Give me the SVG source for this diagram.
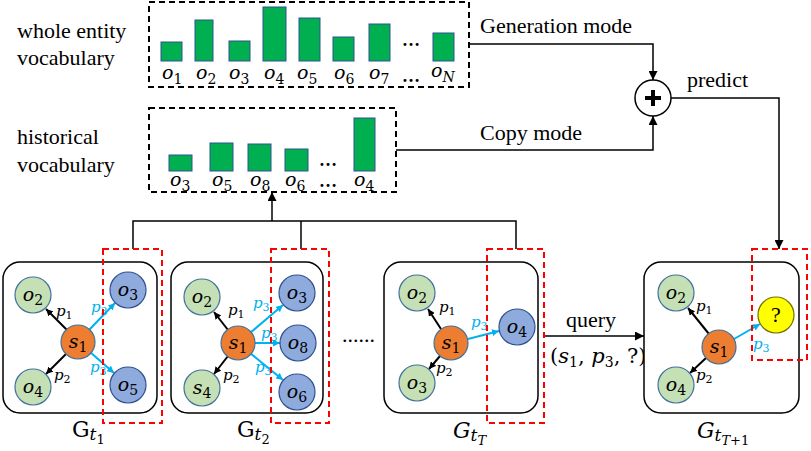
<svg xmlns="http://www.w3.org/2000/svg" width="811" height="451" viewBox="0 0 811 451">
<style>
.lbl{font-family:"Liberation Serif","Times New Roman",serif;font-size:22px;fill:#000}
.dots{font-family:"Liberation Serif","Times New Roman",serif;font-size:18px;font-weight:bold;fill:#000}
.m{font-family:"DejaVu Serif",serif;font-style:italic;font-size:19px;fill:#000}
.mu{font-family:"DejaVu Serif",serif;font-size:21px;fill:#000}
.g{font-family:"DejaVu Serif",serif;font-size:22px;fill:#000}
.sub{font-size:14px;font-style:normal}
.gs{font-size:17px;font-style:italic}
.gss{font-size:13px;font-style:normal}
.ssub{font-size:11px;font-style:normal}
.it{font-style:italic}
.e{font-family:"DejaVu Serif",serif;font-style:italic;font-size:15px;fill:#000}
.eb{fill:#00B0F0}
.bar{fill:#00B050;stroke:#2F528F;stroke-width:1}
.box{fill:none;stroke:#000;stroke-width:2;stroke-dasharray:6,4}
.red{fill:none;stroke:#FF0000;stroke-width:2;stroke-dasharray:6,4}
.gb{fill:#fff;stroke:#000;stroke-width:1.5}
.ng{fill:#C5E0B4;stroke:#41719C;stroke-width:1.2}
.nb{fill:#8FAADC;stroke:#2F528F;stroke-width:1.2}
.no{fill:#ED7D31;stroke:#41719C;stroke-width:1.2}
.ny{fill:#FFFF00;stroke:#6F6F00;stroke-width:1.2}
.c{fill:none;stroke:#000;stroke-width:1.5}
.ak{stroke:#000;stroke-width:2;fill:none}
.ab{stroke:#00B0F0;stroke-width:2;fill:none}
</style>
<defs>
<marker id="ah" viewBox="0 0 10 10" refX="10" refY="5" markerWidth="9" markerHeight="9" markerUnits="userSpaceOnUse" orient="auto"><path d="M0,0 L10,5 L0,10 z" fill="#000"/></marker>
<marker id="ahs" viewBox="0 0 10 10" refX="10" refY="5" markerWidth="7" markerHeight="7" markerUnits="userSpaceOnUse" orient="auto"><path d="M0,0 L10,5 L0,10 z" fill="#000"/></marker>
<marker id="ahb" viewBox="0 0 10 10" refX="10" refY="5" markerWidth="7" markerHeight="7" markerUnits="userSpaceOnUse" orient="auto"><path d="M0,0 L10,5 L0,10 z" fill="#00B0F0"/></marker>
</defs>

<!-- Left labels -->
<text class="lbl" x="17" y="38">whole entity</text>
<text class="lbl" x="17" y="65">vocabulary</text>
<text class="lbl" x="17" y="144">historical</text>
<text class="lbl" x="17" y="172">vocabulary</text>

<!-- whole entity vocabulary -->
<g id="whole-vocab">
<rect class="box" x="149" y="2" width="320" height="85"/>
<rect class="bar" x="161" y="42" width="21" height="19"/>
<rect class="bar" x="195" y="20" width="18" height="41"/>
<rect class="bar" x="229" y="41" width="21" height="20"/>
<rect class="bar" x="263" y="7" width="23" height="54"/>
<rect class="bar" x="299" y="18" width="21" height="43"/>
<rect class="bar" x="333" y="37" width="21" height="24"/>
<rect class="bar" x="369" y="24" width="21" height="37"/>
<text class="dots" x="402" y="46">…</text>
<rect class="bar" x="433" y="33" width="21" height="28"/>
<text class="m" x="162" y="79">o<tspan class="sub" dy="5">1</tspan></text>
<text class="m" x="196" y="79">o<tspan class="sub" dy="5">2</tspan></text>
<text class="m" x="229" y="79">o<tspan class="sub" dy="5">3</tspan></text>
<text class="m" x="264" y="79">o<tspan class="sub" dy="5">4</tspan></text>
<text class="m" x="297" y="79">o<tspan class="sub" dy="5">5</tspan></text>
<text class="m" x="334" y="79">o<tspan class="sub" dy="5">6</tspan></text>
<text class="m" x="369" y="79">o<tspan class="sub" dy="5">7</tspan></text>
<text class="dots" x="402" y="82">…</text>
<text class="m" x="431" y="77">o<tspan class="sub it" dy="5">N</tspan></text>
</g>

<!-- historical vocabulary -->
<g id="hist-vocab">
<rect class="box" x="149" y="108" width="247" height="84"/>
<rect class="bar" x="169" y="155" width="23" height="16"/>
<rect class="bar" x="210" y="143" width="23" height="28"/>
<rect class="bar" x="248" y="144" width="23" height="27"/>
<rect class="bar" x="285" y="149" width="23" height="22"/>
<text class="dots" x="319" y="166">…</text>
<rect class="bar" x="354" y="118" width="21" height="53"/>
<text class="m" x="170" y="186">o<tspan class="sub" dy="5">3</tspan></text>
<text class="m" x="212" y="186">o<tspan class="sub" dy="5">5</tspan></text>
<text class="m" x="250" y="186">o<tspan class="sub" dy="5">8</tspan></text>
<text class="m" x="285" y="186">o<tspan class="sub" dy="5">6</tspan></text>
<text class="dots" x="319" y="187">…</text>
<text class="m" x="354" y="186">o<tspan class="sub" dy="5">4</tspan></text>
</g>

<!-- combine -->
<g id="plus">
<circle cx="653" cy="98" r="18" fill="#fff" stroke="#000" stroke-width="1.5"/>
<line x1="645" y1="98" x2="661" y2="98" stroke="#000" stroke-width="4"/>
<line x1="653" y1="90" x2="653" y2="106" stroke="#000" stroke-width="4"/>
</g>

<!-- connectors -->
<g id="connectors">
<polyline class="c" points="469,44 653,44 653,80" marker-end="url(#ah)"/>
<polyline class="c" points="396,150 653,150 653,116" marker-end="url(#ah)"/>
<polyline class="c" points="671,98 779,98 779,249" marker-end="url(#ah)"/>
<polyline class="c" points="133,249 133,221 516,221 516,249"/>
<line class="c" x1="301" y1="221" x2="301" y2="249"/>
<line class="c" x1="272" y1="221" x2="272" y2="192" marker-end="url(#ah)"/>
<line class="c" x1="545" y1="336" x2="644" y2="336" marker-end="url(#ah)"/>
<text class="lbl" x="480" y="33">Generation mode</text>
<text class="lbl" x="480" y="140">Copy mode</text>
<text class="lbl" x="687" y="87">predict</text>
<text class="lbl" x="566" y="327">query</text>
<text class="mu" x="550" y="363">(<tspan font-style="italic">s</tspan><tspan class="sub" dy="4">1</tspan><tspan dy="-4">, </tspan><tspan font-style="italic">p</tspan><tspan class="sub" dy="4">3</tspan><tspan dy="-4">, ?)</tspan></text>
<text class="lbl" x="342" y="342">......</text>
</g>

<!-- Graph t1 -->
<g id="graph-t1">
<rect class="gb" x="3" y="262" width="154" height="151" rx="17"/>
<line class="ak" x1="67" y1="330" x2="46" y2="309" marker-end="url(#ahs)"/>
<line class="ak" x1="67" y1="353" x2="46" y2="374" marker-end="url(#ahs)"/>
<line class="ab" x1="89" y1="330" x2="115" y2="303" marker-end="url(#ahb)"/>
<line class="ab" x1="90" y1="352" x2="114" y2="373" marker-end="url(#ahb)"/>
<circle class="ng" cx="33" cy="295" r="18"/>
<circle class="ng" cx="33" cy="387" r="18"/>
<circle class="nb" cx="128" cy="290" r="18"/>
<circle class="nb" cx="128" cy="385" r="18"/>
<circle class="no" cx="78" cy="342" r="17"/>
<text class="m" x="33" y="301" text-anchor="middle">o<tspan class="sub" dy="4">2</tspan></text>
<text class="m" x="33" y="393" text-anchor="middle">o<tspan class="sub" dy="4">4</tspan></text>
<text class="m" x="128" y="296" text-anchor="middle">o<tspan class="sub" dy="4">3</tspan></text>
<text class="m" x="128" y="391" text-anchor="middle">o<tspan class="sub" dy="4">5</tspan></text>
<text class="m" x="78" y="348" text-anchor="middle">s<tspan class="sub" dy="4">1</tspan></text>
<text class="e" x="56" y="316">p<tspan class="ssub" dy="3">1</tspan></text>
<text class="e" x="54" y="380">p<tspan class="ssub" dy="3">2</tspan></text>
<text class="e eb" x="91" y="312">p<tspan class="ssub" dy="3">3</tspan></text>
<text class="e eb" x="90" y="372">p<tspan class="ssub" dy="3">3</tspan></text>
<rect class="red" x="103" y="249" width="59" height="174"/>
<text class="g" x="72" y="437">G<tspan class="gs" dy="3">t</tspan><tspan class="gss" dy="4">1</tspan></text>
</g>

<!-- Graph t2 -->
<g id="graph-t2">
<rect class="gb" x="171" y="262" width="152" height="151" rx="17"/>
<line class="ak" x1="228" y1="330" x2="214" y2="312" marker-end="url(#ahs)"/>
<line class="ak" x1="228" y1="356" x2="214" y2="374" marker-end="url(#ahs)"/>
<line class="ab" x1="250" y1="333" x2="283" y2="305" marker-end="url(#ahb)"/>
<line class="ab" x1="255" y1="343" x2="280" y2="343" marker-end="url(#ahb)"/>
<line class="ab" x1="250" y1="353" x2="283" y2="380" marker-end="url(#ahb)"/>
<circle class="ng" cx="202" cy="297" r="18"/>
<circle class="ng" cx="202" cy="388" r="18"/>
<circle class="nb" cx="297" cy="293" r="18"/>
<circle class="nb" cx="298" cy="343" r="18"/>
<circle class="nb" cx="297" cy="392" r="18"/>
<circle class="no" cx="238" cy="343" r="17"/>
<text class="m" x="202" y="303" text-anchor="middle">o<tspan class="sub" dy="4">2</tspan></text>
<text class="m" x="202" y="394" text-anchor="middle">s<tspan class="sub" dy="4">4</tspan></text>
<text class="m" x="297" y="299" text-anchor="middle">o<tspan class="sub" dy="4">3</tspan></text>
<text class="m" x="298" y="349" text-anchor="middle">o<tspan class="sub" dy="4">8</tspan></text>
<text class="m" x="297" y="398" text-anchor="middle">o<tspan class="sub" dy="4">6</tspan></text>
<text class="m" x="238" y="349" text-anchor="middle">s<tspan class="sub" dy="4">1</tspan></text>
<text class="e" x="228" y="315">p<tspan class="ssub" dy="3">1</tspan></text>
<text class="e" x="223" y="380">p<tspan class="ssub" dy="3">2</tspan></text>
<text class="e eb" x="253" y="308">p<tspan class="ssub" dy="3">3</tspan></text>
<text class="e eb" x="261" y="338">p<tspan class="ssub" dy="3">3</tspan></text>
<text class="e eb" x="255" y="372">p<tspan class="ssub" dy="3">3</tspan></text>
<rect class="red" x="271" y="249" width="58" height="174"/>
<text class="g" x="237" y="437">G<tspan class="gs" dy="3">t</tspan><tspan class="gss" dy="4">2</tspan></text>
</g>

<!-- Graph tT -->
<g id="graph-tT">
<rect class="gb" x="384" y="262" width="154" height="151" rx="17"/>
<line class="ak" x1="441" y1="329" x2="428" y2="309" marker-end="url(#ahs)"/>
<line class="ak" x1="440" y1="356" x2="429" y2="369" marker-end="url(#ahs)"/>
<line class="ab" x1="468" y1="339" x2="499" y2="331" marker-end="url(#ahb)"/>
<circle class="ng" cx="417" cy="293" r="18"/>
<circle class="ng" cx="417" cy="383" r="18"/>
<circle class="nb" cx="517" cy="327" r="18"/>
<circle class="no" cx="451" cy="343" r="17"/>
<text class="m" x="417" y="299" text-anchor="middle">o<tspan class="sub" dy="4">2</tspan></text>
<text class="m" x="417" y="389" text-anchor="middle">o<tspan class="sub" dy="4">3</tspan></text>
<text class="m" x="517" y="333" text-anchor="middle">o<tspan class="sub" dy="4">4</tspan></text>
<text class="m" x="451" y="349" text-anchor="middle">s<tspan class="sub" dy="4">1</tspan></text>
<text class="e" x="439" y="312">p<tspan class="ssub" dy="3">1</tspan></text>
<text class="e" x="436" y="373">p<tspan class="ssub" dy="3">2</tspan></text>
<text class="e eb" x="471" y="327">p<tspan class="ssub" dy="3">3</tspan></text>
<rect class="red" x="487" y="249" width="57" height="174"/>
<text class="g" x="453" y="438" font-style="italic">G<tspan class="gs" dy="3">t</tspan><tspan class="gss" dy="4"><tspan class="it">T</tspan></tspan></text>
</g>

<!-- Graph tT+1 -->
<g id="graph-tT1">
<rect class="gb" x="644" y="262" width="155" height="151" rx="17"/>
<line class="ak" x1="709" y1="334" x2="688" y2="308" marker-end="url(#ahs)"/>
<line class="ak" x1="706" y1="358" x2="690" y2="373" marker-end="url(#ahs)"/>
<line class="ab" x1="734" y1="339" x2="760" y2="324" marker-end="url(#ahb)"/>
<circle class="ng" cx="676" cy="293" r="18"/>
<circle class="ng" cx="676" cy="385" r="18"/>
<circle class="ny" cx="776" cy="315" r="18"/>
<circle class="no" cx="719" cy="347" r="17"/>
<text class="m" x="676" y="299" text-anchor="middle">o<tspan class="sub" dy="4">2</tspan></text>
<text class="m" x="676" y="391" text-anchor="middle">o<tspan class="sub" dy="4">4</tspan></text>
<text class="lbl" x="776" y="322" text-anchor="middle">?</text>
<text class="m" x="719" y="353" text-anchor="middle">s<tspan class="sub" dy="4">1</tspan></text>
<text class="e" x="696" y="311">p<tspan class="ssub" dy="3">1</tspan></text>
<text class="e" x="696" y="380">p<tspan class="ssub" dy="3">2</tspan></text>
<text class="e eb" x="753" y="349">p<tspan class="ssub" dy="3">3</tspan></text>
<rect class="red" x="752" y="249" width="55" height="111"/>
<text class="g" x="697" y="438" font-style="italic">G<tspan class="gs" dy="3">t</tspan><tspan class="gss" dy="4"><tspan class="it">T</tspan>+1</tspan></text>
</g>
</svg>
